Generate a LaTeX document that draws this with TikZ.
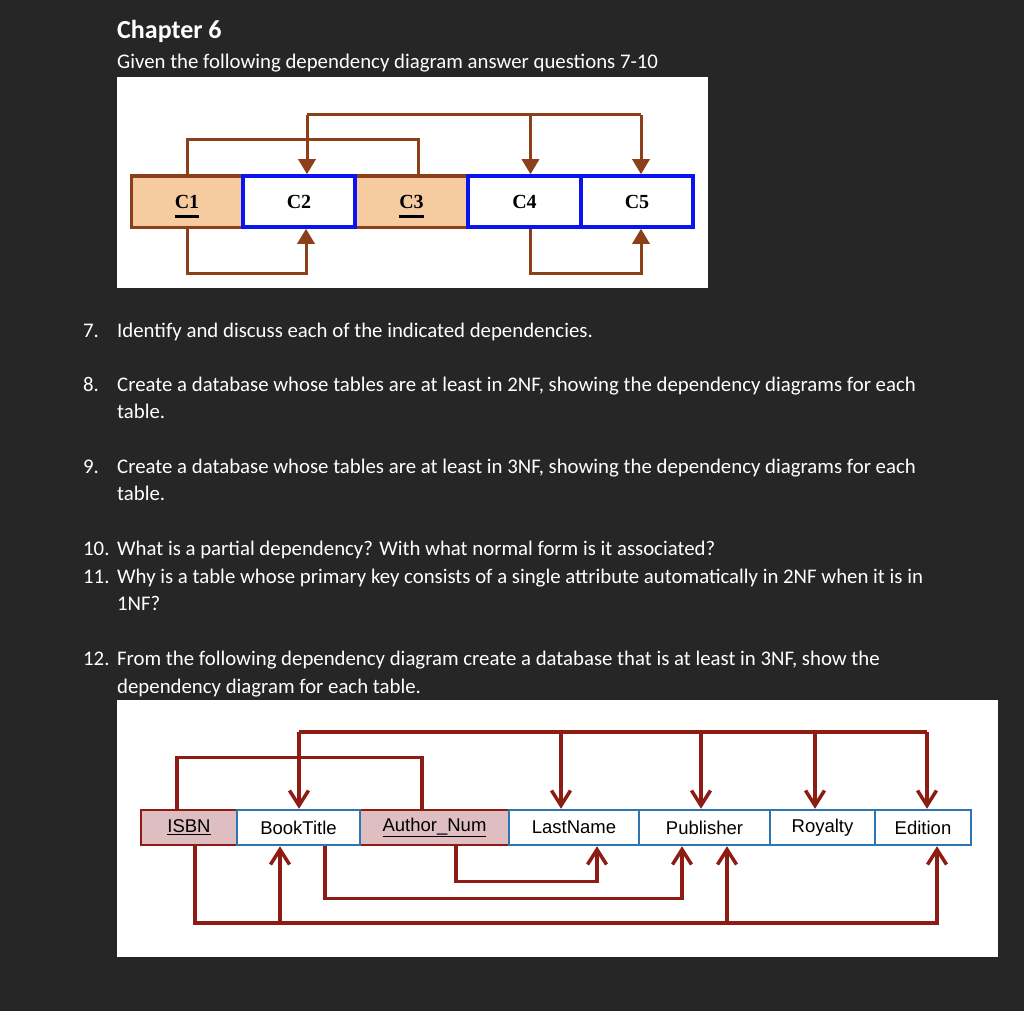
\documentclass[tikz,border=0pt]{standalone}
\usepackage{fontspec}
\setmainfont{Carlito}
\newfontfamily\diaserif{Liberation Serif}
\newfontfamily\diasans{Liberation Sans}
\usetikzlibrary{arrows.meta}
\definecolor{bgdark}{RGB}{38,38,38}
\definecolor{brn}{RGB}{140,64,25}
\definecolor{peach}{RGB}{246,203,160}
\definecolor{bluetop}{RGB}{10,20,240}
\definecolor{dred}{RGB}{140,28,20}
\definecolor{pinkfill}{RGB}{222,190,192}
\definecolor{bluebot}{RGB}{46,117,182}
\newcommand\keyul[1]{\setbox0\hbox{#1}\leavevmode\rlap{\smash{\raisebox{-10pt}{\rule{\wd0}{2.6pt}}}}\box0}
\tikzset{
  txt/.style={anchor=base west, text=white, inner sep=0pt, font=\fontsize{20.8}{25}\selectfont},
  num/.style={txt},
  keytop/.style={draw=brn, fill=peach, line width=3pt, minimum height=51pt, inner sep=0pt, font=\diaserif\bfseries\fontsize{20}{24}\selectfont},
  attrtop/.style={draw=bluetop, fill=white, line width=3.5pt, minimum height=51pt, inner sep=0pt, font=\diaserif\bfseries\fontsize{20}{24}\selectfont},
  keybot/.style={draw=dred, fill=pinkfill, line width=2.5pt, minimum height=35pt, inner sep=0pt, font=\diasans\fontsize{18.5}{22}\selectfont},
  attrbot/.style={draw=bluebot, fill=white, line width=2.5pt, minimum height=35pt, inner sep=0pt, font=\diasans\fontsize{18.5}{22}\selectfont},
  lnt/.style={draw=brn, line width=3pt},
  arrt/.style={lnt, -{Triangle[length=15pt,width=17pt]}},
  lnb/.style={draw=dred, line width=3.5pt},
  arrb/.style={lnb, -{Straight Barb[length=15pt,width=19pt,line width=3.5pt]}},
}
\begin{document}
\begin{tikzpicture}[x=1pt,y=-1pt]
\fill[bgdark] (0,0) rectangle (1024,1011);
\useasboundingbox (0,0) rectangle (1024,1011);
% headings
\node[anchor=base west, text=white, inner sep=0pt, font=\bfseries\fontsize{26}{30}\selectfont] (h1) at (117,39) {Chapter 6};
\node[txt] (h2) at (117,69) {Given the following dependency diagram answer questions 7-10};
% top diagram
\fill[white] (117,77) rectangle (708,288);
\node[keytop, minimum width=112pt] (C1) at (187,201.5) {\keyul{C1}};
\node[keytop, minimum width=113pt] (C3) at (411.5,201.5) {\keyul{C3}};
\node[attrtop, minimum width=112pt] (C2) at (299,201.5) {C2};
\node[attrtop, minimum width=113pt] (C4) at (524.5,201.5) {C4};
\node[attrtop, minimum width=112pt] (C5) at (637,201.5) {C5};
\coordinate (k1) at (307,115);
\coordinate (k2) at (641,115);
\draw[lnt] (k1) -- (k2);
\draw[arrt] (k1) -- ([xshift=8pt]C2.north);
\draw[arrt] ([xshift=6pt]C4.north |- k1) -- ([xshift=6pt]C4.north);
\draw[arrt] (k2) -- ([xshift=4pt]C5.north);
\draw[lnt] (C1.north) -- ++(0,-35) -| ([xshift=7pt]C3.north);
\draw[arrt] (C1.south) -- ++(0,45) -| ([xshift=7pt]C2.south);
\draw[arrt] ([xshift=6pt]C4.south) -- ++(0,45) -| ([xshift=4pt]C5.south);
% questions
\node[num] (n7) at (83,337) {7.};
\node[txt] (q7) at (117,337) {Identify and discuss each of the indicated dependencies.};
\node[num] (n8) at (83,391) {8.};
\node[txt] (q8) at (117,391) {Create a database whose tables are at least in 2NF, showing the dependency diagrams for each};
\node[txt] (q8b) at (117,418) {table.};
\node[num] (n9) at (83,473) {9.};
\node[txt] (q9) at (117,473) {Create a database whose tables are at least in 3NF, showing the dependency diagrams for each};
\node[txt] (q9b) at (117,500) {table.};
\node[num] (n10) at (83,555) {10.};
\node[txt] (q10) at (117,555) {What is a partial dependency? With what normal form is it associated?};
\node[num] (n11) at (83,583) {11.};
\node[txt] (q11) at (117,583) {Why is a table whose primary key consists of a single attribute automatically in 2NF when it is in};
\node[txt] (q11b) at (117,610) {1NF?};
\node[num] (n12) at (83,665) {12.};
\node[txt] (q12) at (117,665) {From the following dependency diagram create a database that is at least in 3NF, show the};
\node[txt] (q12b) at (117,693) {dependency diagram for each table.};
% bottom diagram
\fill[white] (117,700) rectangle (998,957);
\node[keybot, minimum width=96pt] (isbn) at (189,827.5) {\underline{ISBN}};
\node[keybot, minimum width=149pt] (auth) at (434.5,827.5) {\underline{Author\_Num}};
\node[attrbot, minimum width=123pt] (book) at (298.5,827.5) {BookTitle};
\node[attrbot, minimum width=130pt] (last) at (574,827.5) {LastName};
\node[attrbot, minimum width=131pt] (pub) at (704.5,827.5) {Publisher};
\node[attrbot, minimum width=105pt] (roy) at (822.5,827.5) {Royalty};
\node[attrbot, minimum width=96pt] (ed) at (923,827.5) {Edition};
\coordinate (b1) at (299,732);
\coordinate (b2) at (927,732);
\draw[lnb] (b1) -- (b2);
\draw[arrb] (b1) -- ([xshift=0.5pt]book.north);
\draw[arrb] ([xshift=-13pt]last.north |- b1) -- ([xshift=-13pt]last.north);
\draw[arrb] ([xshift=-3.5pt]pub.north |- b1) -- ([xshift=-3.5pt]pub.north);
\draw[arrb] ([xshift=-7.5pt]roy.north |- b1) -- ([xshift=-7.5pt]roy.north);
\draw[arrb] (b2) -- ([xshift=4pt]ed.north);
\draw[lnb] ([xshift=-12pt]isbn.north) -- ++(0,-51.5) -| ([xshift=-12.5pt]auth.north);
\draw[arrb] ([xshift=21.5pt]auth.south) -- ++(0,35) -| ([xshift=23pt]last.south);
\draw[arrb] ([xshift=26.5pt]book.south) -- ++(0,52) -| ([xshift=-22.5pt]pub.south);
\coordinate (b3) at (195,923);
\draw[arrb] ([xshift=6pt]isbn.south) |- (b3) -| ([xshift=14pt]ed.south);
\draw[arrb] ([xshift=-18.5pt]book.south |- b3) -- ([xshift=-18.5pt]book.south);
\draw[arrb] ([xshift=22.5pt]pub.south |- b3) -- ([xshift=22.5pt]pub.south);
\end{tikzpicture}
\end{document}
